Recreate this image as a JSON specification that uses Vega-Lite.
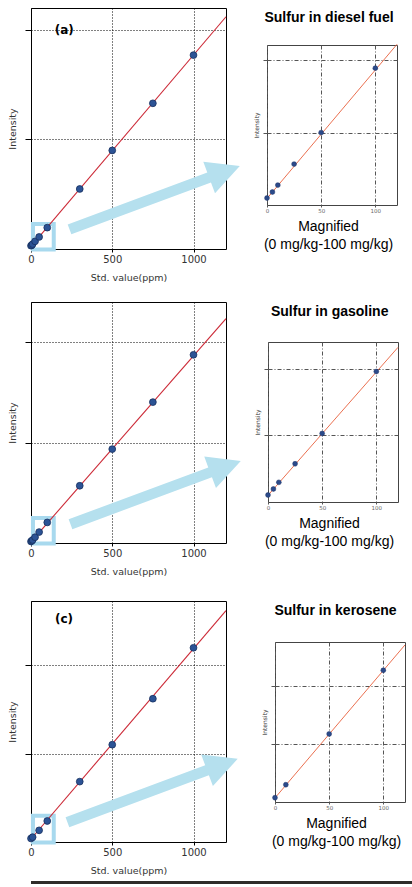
{
"$schema":"https://vega.github.io/schema/vega-lite/v6.json",
"background":"white",
"padding":{"left":7,"top":7,"right":0,"bottom":0},
"datasets":{
"mainA":[
{"kind":"box","x":12,"x2":140,"y":-0.005,"y2":0.228},
{"kind":"fit","x":0,"y":0.024},{"kind":"fit","x":1200,"y":2.12},
{"kind":"pt","x":0,"y":0.03},{"kind":"pt","x":5,"y":0.035},{"kind":"pt","x":10,"y":0.045},{"kind":"pt","x":25,"y":0.07},{"kind":"pt","x":50,"y":0.11},{"kind":"pt","x":100,"y":0.195},{"kind":"pt","x":300,"y":0.548},{"kind":"pt","x":500,"y":0.9},{"kind":"pt","x":750,"y":1.33},{"kind":"pt","x":1000,"y":1.77},
{"kind":"arrow","x":761,"y":0.468},
{"kind":"label","x":205,"y":2.0,"label":"(a)"}],
"magA":[
{"kind":"fit","x":0,"y":0.09},{"kind":"fit","x":120,"y":2.22},
{"kind":"pt","x":0,"y":0.096},{"kind":"pt","x":5,"y":0.179},{"kind":"pt","x":10,"y":0.275},{"kind":"pt","x":25,"y":0.565},{"kind":"pt","x":50,"y":1.0},{"kind":"pt","x":100,"y":1.89}],
"mainB":[
{"kind":"box","x":12,"x2":140,"y":-0.005,"y2":0.25},
{"kind":"fit","x":0,"y":0.011},{"kind":"fit","x":1200,"y":2.235},
{"kind":"pt","x":0,"y":0.015},{"kind":"pt","x":5,"y":0.022},{"kind":"pt","x":10,"y":0.03},{"kind":"pt","x":25,"y":0.058},{"kind":"pt","x":50,"y":0.109},{"kind":"pt","x":100,"y":0.205},{"kind":"pt","x":300,"y":0.57},{"kind":"pt","x":500,"y":0.935},{"kind":"pt","x":750,"y":1.403},{"kind":"pt","x":1000,"y":1.874},
{"kind":"arrow","x":767,"y":0.502}],
"magB":[
{"kind":"fit","x":0,"y":0.1},{"kind":"fit","x":120,"y":2.32},
{"kind":"pt","x":0,"y":0.105},{"kind":"pt","x":5,"y":0.195},{"kind":"pt","x":10,"y":0.295},{"kind":"pt","x":25,"y":0.573},{"kind":"pt","x":50,"y":1.028},{"kind":"pt","x":100,"y":1.957}],
"mainC":[
{"kind":"box","x":12,"x2":140,"y":-0.005,"y2":0.297},
{"kind":"fit","x":0,"y":0.034},{"kind":"fit","x":1200,"y":2.62},
{"kind":"pt","x":0,"y":0.04},{"kind":"pt","x":10,"y":0.055},{"kind":"pt","x":50,"y":0.132},{"kind":"pt","x":100,"y":0.238},{"kind":"pt","x":300,"y":0.684},{"kind":"pt","x":500,"y":1.102},{"kind":"pt","x":750,"y":1.623},{"kind":"pt","x":1000,"y":2.2},
{"kind":"arrow","x":748,"y":0.583},
{"kind":"label","x":203,"y":2.53,"label":"(c)"}],
"magC":[
{"kind":"fit","x":0,"y":0.07},{"kind":"fit","x":120,"y":2.7},
{"kind":"pt","x":0,"y":0.074},{"kind":"pt","x":10,"y":0.297},{"kind":"pt","x":50,"y":1.17},{"kind":"pt","x":100,"y":2.264}]
},
"spacing":19,
"vconcat":[
{"hconcat":[
 {"width":195,"height":241,"view":{"stroke":"#000","strokeWidth":1},"data":{"name":"mainA"},
  "encoding":{
   "x":{"field":"x","type":"quantitative","scale":{"domain":[0,1200],"nice":false,"zero":false},"axis":{"values":[0,500,1000],"format":"d","grid":true,"gridColor":"#000","gridDash":[1,2],"gridOpacity":1,"gridWidth":1,"domain":false,"tickSize":3,"tickColor":"#000","labelFont":"DejaVu Sans","labelFontSize":10,"labelColor":"#333","labelPadding":2,"labelFlush":false,"title":"Std. value(ppm)","titleFont":"DejaVu Sans","titleFontSize":9.5,"titleFontWeight":"normal","titleColor":"#333","titlePadding":8}},
   "y":{"field":"y","type":"quantitative","scale":{"domain":[0,2.2],"nice":false,"zero":false},"axis":{"values":[1,2],"grid":true,"gridColor":"#000","gridDash":[1,2],"gridOpacity":1,"gridWidth":1,"domain":false,"labels":false,"tickSize":6,"tickColor":"#000","title":"Intensity","titleFont":"DejaVu Sans","titleFontSize":9.5,"titleFontWeight":"normal","titleColor":"#333","titlePadding":7}}},
  "layer":[
   {"transform":[{"filter":"datum.kind === 'box'"}],"mark":{"type":"rect","fill":"white","stroke":"#a8d9ee","strokeWidth":4},"encoding":{"x2":{"field":"x2"},"y2":{"field":"y2"}}},
   {"transform":[{"filter":"datum.kind === 'fit'"}],"mark":{"type":"line","color":"#cc2936","strokeWidth":1.1}},
   {"transform":[{"filter":"datum.kind === 'pt'"}],"mark":{"type":"point","filled":true,"size":46,"fill":"#2c5395","stroke":"#17305e","strokeWidth":0.8,"opacity":1}},
   {"transform":[{"filter":"datum.kind === 'arrow'"}],"mark":{"type":"point","shape":"M-1,-0.058L0.64,-0.058L0.64,-0.185L1,0L0.64,0.185L0.64,0.058L-1,0.058Z","filled":true,"fill":"#b5e0ee","strokeWidth":0,"size":33000,"angle":339.6,"opacity":1}},
   {"transform":[{"filter":"datum.kind === 'label'"}],"mark":{"type":"text","font":"DejaVu Sans","fontSize":12,"fontWeight":"bold","color":"#000"},"encoding":{"text":{"field":"label"}}}
  ]},
 {"vconcat":[
  {"width":130,"height":20,"view":{"stroke":null,"fill":"white"},"data":{"values":[{"t":"Sulfur in diesel fuel"}]},"mark":{"type":"text","font":"Liberation Sans","fontSize":14,"fontWeight":"bold","dx":-3,"baseline":"middle","color":"#000"},"encoding":{"text":{"field":"t"}}},
  {"width":130,"height":160,"view":{"stroke":"#444","strokeWidth":1},"data":{"name":"magA"},
   "encoding":{
    "x":{"field":"x","type":"quantitative","scale":{"domain":[0,120],"nice":false,"zero":false},"axis":{"values":[0,50,100],"grid":true,"gridColor":"#555","gridDash":[4,2,1,2],"gridOpacity":1,"gridWidth":1,"domain":false,"tickSize":2,"tickColor":"#555","labelFont":"DejaVu Sans","labelFontSize":5.5,"labelColor":"#666","labelPadding":1.5,"labelFlush":false,"title":["Magnified","(0 mg/kg-100 mg/kg)"],"titleFont":"Liberation Sans","titleFontSize":14,"titleFontWeight":"normal","titleColor":"#000","titleLineHeight":18,"titlePadding":5,"titleX":61}},
    "y":{"field":"y","type":"quantitative","scale":{"domain":[0,2.21],"nice":false,"zero":false},"axis":{"values":[1,2],"grid":true,"gridColor":"#555","gridDash":[4,2,1,2],"gridOpacity":1,"gridWidth":1,"domain":false,"labels":false,"tickSize":4,"tickColor":"#555","title":"Intensity","titleFont":"DejaVu Sans","titleFontSize":6,"titleFontWeight":"normal","titleColor":"#333","titlePadding":3}}},
   "layer":[
    {"transform":[{"filter":"datum.kind === 'fit'"}],"mark":{"type":"line","color":"#e8603c","strokeWidth":0.9}},
    {"transform":[{"filter":"datum.kind === 'pt'"}],"mark":{"type":"point","filled":true,"size":24,"fill":"#2b4a8a","stroke":"#1c3366","strokeWidth":0.5,"opacity":1}}
   ]}
 ],"spacing":13}
],"spacing":12},
{"vconcat":[
 {"hconcat":[
  {"width":195,"height":241,"view":{"stroke":"#000","strokeWidth":1},"data":{"name":"mainB"},
   "encoding":{
    "x":{"field":"x","type":"quantitative","scale":{"domain":[0,1200],"nice":false,"zero":false},"axis":{"values":[0,500,1000],"format":"d","grid":true,"gridColor":"#000","gridDash":[1,2],"gridOpacity":1,"gridWidth":1,"domain":false,"tickSize":3,"tickColor":"#000","labelFont":"DejaVu Sans","labelFontSize":10,"labelColor":"#333","labelPadding":2,"labelFlush":false,"title":"Std. value(ppm)","titleFont":"DejaVu Sans","titleFontSize":9.5,"titleFontWeight":"normal","titleColor":"#333","titlePadding":8}},
    "y":{"field":"y","type":"quantitative","scale":{"domain":[0,2.4],"nice":false,"zero":false},"axis":{"values":[1,2],"grid":true,"gridColor":"#000","gridDash":[1,2],"gridOpacity":1,"gridWidth":1,"domain":false,"labels":false,"tickSize":6,"tickColor":"#000","title":"Intensity","titleFont":"DejaVu Sans","titleFontSize":9.5,"titleFontWeight":"normal","titleColor":"#333","titlePadding":7}}},
   "layer":[
    {"transform":[{"filter":"datum.kind === 'box'"}],"mark":{"type":"rect","fill":"white","stroke":"#a8d9ee","strokeWidth":4},"encoding":{"x2":{"field":"x2"},"y2":{"field":"y2"}}},
    {"transform":[{"filter":"datum.kind === 'fit'"}],"mark":{"type":"line","color":"#cc2936","strokeWidth":1.1}},
    {"transform":[{"filter":"datum.kind === 'pt'"}],"mark":{"type":"point","filled":true,"size":46,"fill":"#2c5395","stroke":"#17305e","strokeWidth":0.8,"opacity":1}},
    {"transform":[{"filter":"datum.kind === 'arrow'"}],"mark":{"type":"point","shape":"M-1,-0.058L0.64,-0.058L0.64,-0.185L1,0L0.64,0.185L0.64,0.058L-1,0.058Z","filled":true,"fill":"#b5e0ee","strokeWidth":0,"size":33000,"angle":339.6,"opacity":1}}
   ]},
  {"vconcat":[
   {"width":130,"height":20,"view":{"stroke":null,"fill":"white"},"data":{"values":[{"t":"Sulfur in gasoline"}]},"mark":{"type":"text","font":"Liberation Sans","fontSize":14,"fontWeight":"bold","dx":-3.3,"baseline":"middle","color":"#000"},"encoding":{"text":{"field":"t"}}},
   {"width":130,"height":160,"view":{"stroke":"#444","strokeWidth":1},"data":{"name":"magB"},
    "encoding":{
     "x":{"field":"x","type":"quantitative","scale":{"domain":[0,120],"nice":false,"zero":false},"axis":{"values":[0,50,100],"grid":true,"gridColor":"#555","gridDash":[4,2,1,2],"gridOpacity":1,"gridWidth":1,"domain":false,"tickSize":2,"tickColor":"#555","labelFont":"DejaVu Sans","labelFontSize":5.5,"labelColor":"#666","labelPadding":1.5,"labelFlush":false,"title":["Magnified","(0 mg/kg-100 mg/kg)"],"titleFont":"Liberation Sans","titleFontSize":14,"titleFontWeight":"normal","titleColor":"#000","titleLineHeight":18,"titlePadding":5,"titleX":61}},
     "y":{"field":"y","type":"quantitative","scale":{"domain":[0,2.4],"nice":false,"zero":false},"axis":{"values":[1,2],"grid":true,"gridColor":"#555","gridDash":[4,2,1,2],"gridOpacity":1,"gridWidth":1,"domain":false,"labels":false,"tickSize":4,"tickColor":"#555","title":"Intensity","titleFont":"DejaVu Sans","titleFontSize":6,"titleFontWeight":"normal","titleColor":"#333","titlePadding":3}}},
    "layer":[
     {"transform":[{"filter":"datum.kind === 'fit'"}],"mark":{"type":"line","color":"#e8603c","strokeWidth":0.9}},
     {"transform":[{"filter":"datum.kind === 'pt'"}],"mark":{"type":"point","filled":true,"size":24,"fill":"#2b4a8a","stroke":"#1c3366","strokeWidth":0.5,"opacity":1}}
    ]}
  ],"spacing":19}
 ],"spacing":12},
 {"vconcat":[
  {"hconcat":[
   {"width":195,"height":241,"view":{"stroke":"#000","strokeWidth":1},"data":{"name":"mainC"},
    "encoding":{
     "x":{"field":"x","type":"quantitative","scale":{"domain":[0,1200],"nice":false,"zero":false},"axis":{"values":[0,500,1000],"format":"d","grid":true,"gridColor":"#000","gridDash":[1,2],"gridOpacity":1,"gridWidth":1,"domain":false,"tickSize":3,"tickColor":"#000","labelFont":"DejaVu Sans","labelFontSize":10,"labelColor":"#333","labelPadding":2,"labelFlush":false,"title":"Std. value(ppm)","titleFont":"DejaVu Sans","titleFontSize":9.5,"titleFontWeight":"normal","titleColor":"#333","titlePadding":8}},
     "y":{"field":"y","type":"quantitative","scale":{"domain":[0,2.73],"nice":false,"zero":false},"axis":{"values":[1,2],"grid":true,"gridColor":"#000","gridDash":[1,2],"gridOpacity":1,"gridWidth":1,"domain":false,"labels":false,"tickSize":6,"tickColor":"#000","title":"Intensity","titleFont":"DejaVu Sans","titleFontSize":9.5,"titleFontWeight":"normal","titleColor":"#333","titlePadding":7}}},
    "layer":[
     {"transform":[{"filter":"datum.kind === 'box'"}],"mark":{"type":"rect","fill":"white","stroke":"#a8d9ee","strokeWidth":4},"encoding":{"x2":{"field":"x2"},"y2":{"field":"y2"}}},
     {"transform":[{"filter":"datum.kind === 'fit'"}],"mark":{"type":"line","color":"#cc2936","strokeWidth":1.1}},
     {"transform":[{"filter":"datum.kind === 'pt'"}],"mark":{"type":"point","filled":true,"size":46,"fill":"#2c5395","stroke":"#17305e","strokeWidth":0.8,"opacity":1}},
     {"transform":[{"filter":"datum.kind === 'arrow'"}],"mark":{"type":"point","shape":"M-1,-0.058L0.64,-0.058L0.64,-0.185L1,0L0.64,0.185L0.64,0.058L-1,0.058Z","filled":true,"fill":"#b5e0ee","strokeWidth":0,"size":33000,"angle":339.6,"opacity":1}},
     {"transform":[{"filter":"datum.kind === 'label'"}],"mark":{"type":"text","font":"DejaVu Sans","fontSize":12,"fontWeight":"bold","color":"#000"},"encoding":{"text":{"field":"label"}}}
    ]},
   {"vconcat":[
    {"width":130,"height":20,"view":{"stroke":null,"fill":"white"},"data":{"values":[{"t":"Sulfur in kerosene"}]},"mark":{"type":"text","font":"Liberation Sans","fontSize":14,"fontWeight":"bold","dx":-4.5,"baseline":"middle","color":"#000"},"encoding":{"text":{"field":"t"}}},
    {"width":130,"height":160,"view":{"stroke":"#444","strokeWidth":1},"data":{"name":"magC"},
     "encoding":{
      "x":{"field":"x","type":"quantitative","scale":{"domain":[0,120],"nice":false,"zero":false},"axis":{"values":[0,50,100],"grid":true,"gridColor":"#555","gridDash":[4,2,1,2],"gridOpacity":1,"gridWidth":1,"domain":false,"tickSize":2,"tickColor":"#555","labelFont":"DejaVu Sans","labelFontSize":5.5,"labelColor":"#666","labelPadding":1.5,"labelFlush":false,"title":["Magnified","(0 mg/kg-100 mg/kg)"],"titleFont":"Liberation Sans","titleFontSize":14,"titleFontWeight":"normal","titleColor":"#000","titleLineHeight":18,"titlePadding":5,"titleX":61}},
      "y":{"field":"y","type":"quantitative","scale":{"domain":[0,2.75],"nice":false,"zero":false},"axis":{"values":[1,2],"grid":true,"gridColor":"#555","gridDash":[4,2,1,2],"gridOpacity":1,"gridWidth":1,"domain":false,"labels":false,"tickSize":4,"tickColor":"#555","title":"Intensity","titleFont":"DejaVu Sans","titleFontSize":6,"titleFontWeight":"normal","titleColor":"#333","titlePadding":3}}},
     "layer":[
      {"transform":[{"filter":"datum.kind === 'fit'"}],"mark":{"type":"line","color":"#e8603c","strokeWidth":0.9}},
      {"transform":[{"filter":"datum.kind === 'pt'"}],"mark":{"type":"point","filled":true,"size":24,"fill":"#2b4a8a","stroke":"#1c3366","strokeWidth":0.5,"opacity":1}}
     ]}
   ],"spacing":20}
  ],"spacing":22},
  {"width":384,"height":3,"view":{"stroke":null,"fill":"#2f2c29"},"data":{"values":[{"v":0}]},"mark":{"type":"rule","color":"#2f2c29","strokeWidth":3},"encoding":{"y":{"field":"v","type":"quantitative","axis":null,"scale":{"domain":[-1,1]}}}}
 ],"spacing":6}
],"spacing":24}
]
}
